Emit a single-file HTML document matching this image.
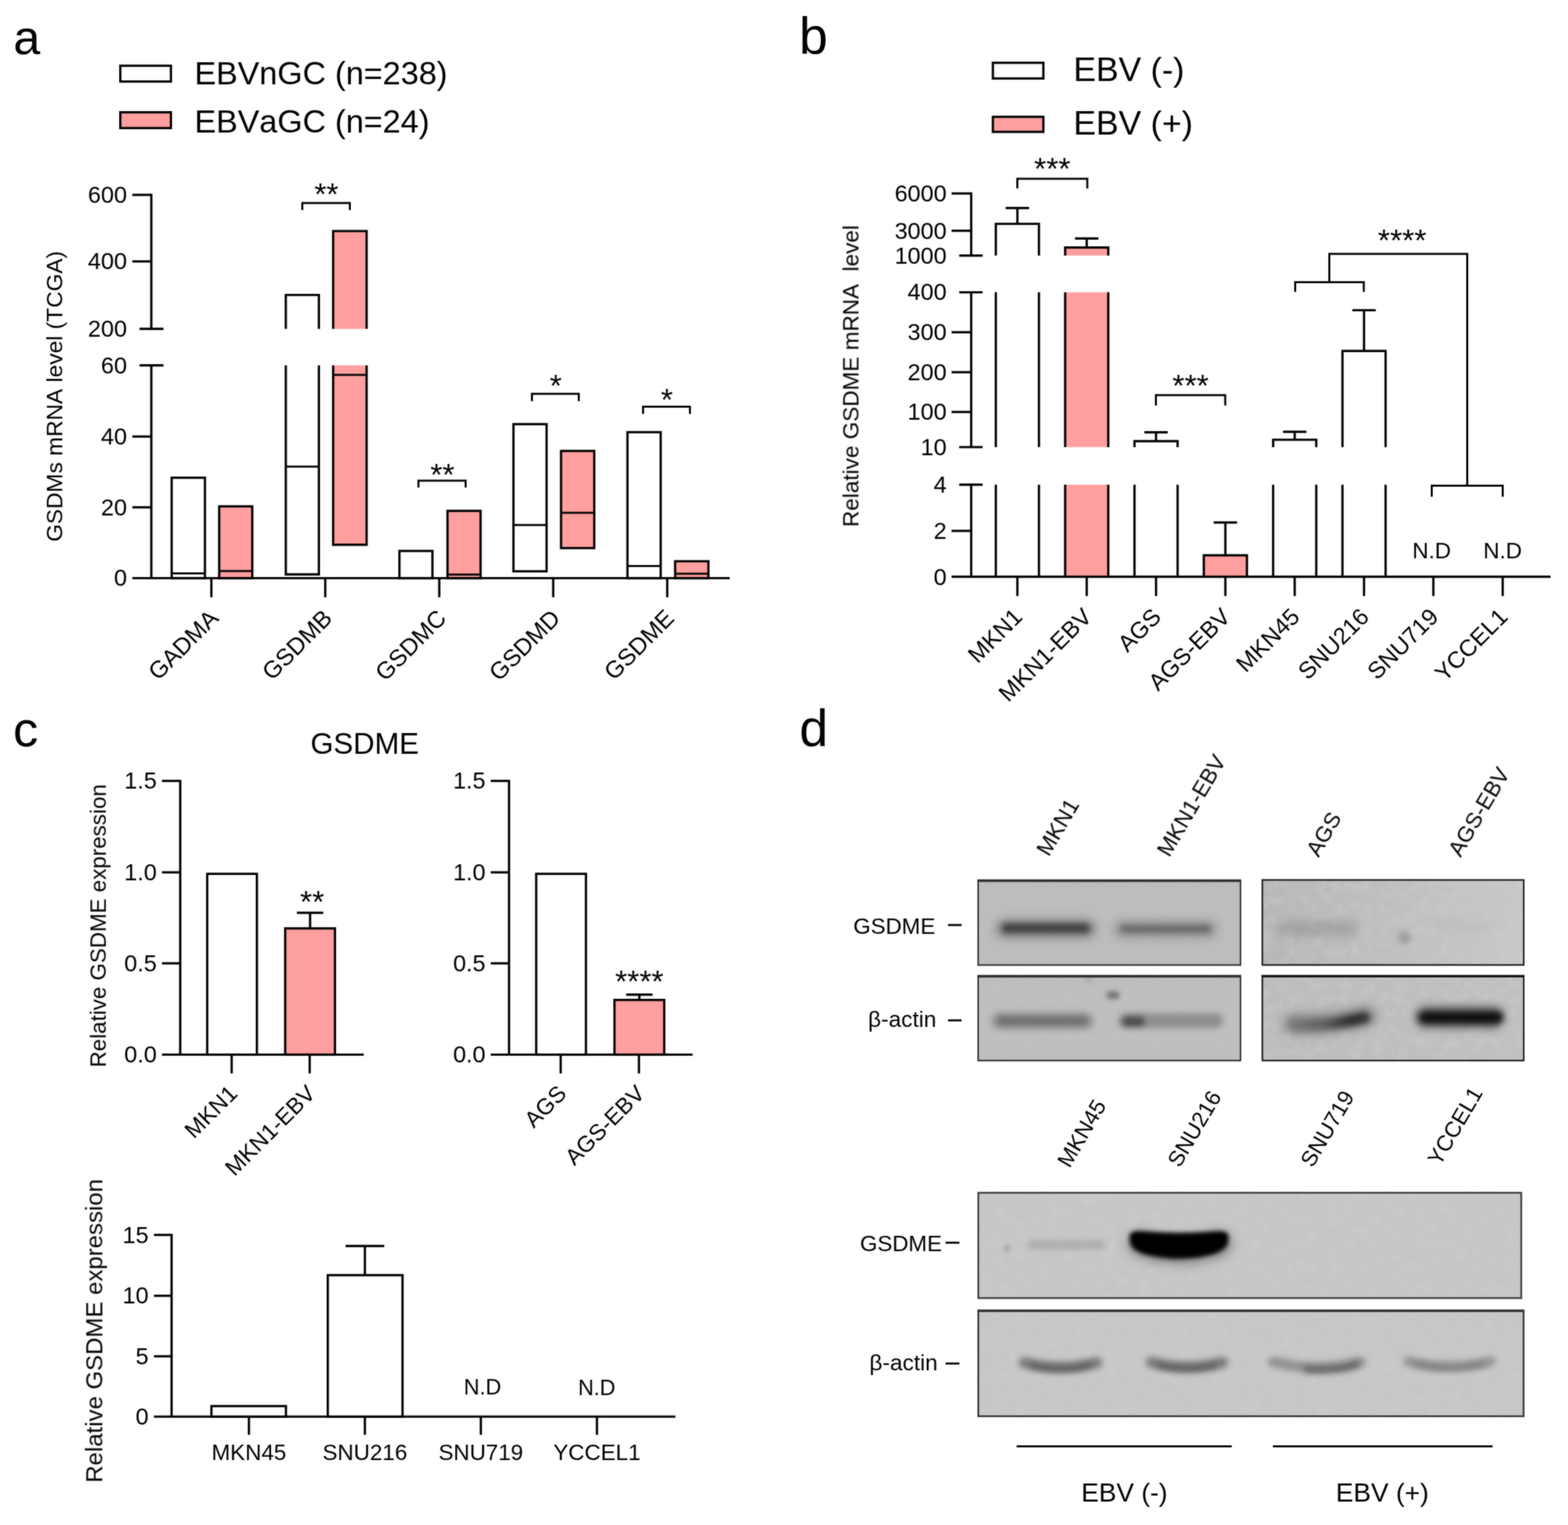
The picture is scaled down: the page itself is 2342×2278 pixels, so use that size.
<!DOCTYPE html>
<html lang="en"><head><meta charset="utf-8"><title>Figure</title>
<style>
html,body{margin:0;padding:0;background:#fff}
svg{display:block}
text{font-family:"Liberation Sans",sans-serif;fill:#000;font-kerning:none}
</style></head>
<body>
<svg width="2342" height="2278" viewBox="0 0 2342 2278">
<defs><filter id="soft" color-interpolation-filters="sRGB" filterUnits="userSpaceOnUse" x="0" y="0" width="2342" height="2278"><feGaussianBlur in="SourceGraphic" stdDeviation="1" result="b"/><feComposite in="SourceGraphic" in2="b" operator="arithmetic" k1="0" k2="0.5" k3="0.5" k4="0"/></filter></defs>
<rect width="2342" height="2278" fill="#fff"/>
<g filter="url(#soft)">
<text x="20" y="81" font-size="72" text-anchor="start">a</text>
<text x="1193.5" y="81" font-size="77" text-anchor="start">b</text>
<text x="19.5" y="1115" font-size="75" text-anchor="start">c</text>
<text x="1194" y="1115" font-size="77" text-anchor="start">d</text>
<rect x="179.7" y="98.2" width="75.6" height="23.6" fill="#fff" stroke="#000" stroke-width="3.4" />
<rect x="179.7" y="167.7" width="75.6" height="23.6" fill="#ff9f9f" stroke="#000" stroke-width="3.4" />
<text x="290.5" y="125.8" font-size="48.4" text-anchor="start">EBVnGC (n=238)</text>
<text x="290.5" y="198.2" font-size="48.4" text-anchor="start">EBVaGC (n=24)</text>
<line x1="226" y1="289.5" x2="226" y2="491.3" stroke="#000" stroke-width="3.4" stroke-linecap="butt"/>
<line x1="197.7" y1="291.1" x2="226" y2="291.1" stroke="#000" stroke-width="3.4" stroke-linecap="butt"/>
<line x1="197.7" y1="390.5" x2="226" y2="390.5" stroke="#000" stroke-width="3.4" stroke-linecap="butt"/>
<line x1="208.4" y1="491.3" x2="244.2" y2="491.3" stroke="#000" stroke-width="3.4" stroke-linecap="butt"/>
<line x1="226" y1="545.7" x2="226" y2="863.6" stroke="#000" stroke-width="3.4" stroke-linecap="butt"/>
<line x1="208.4" y1="545.7" x2="244.2" y2="545.7" stroke="#000" stroke-width="3.4" stroke-linecap="butt"/>
<line x1="197.7" y1="652.1" x2="226" y2="652.1" stroke="#000" stroke-width="3.4" stroke-linecap="butt"/>
<line x1="197.7" y1="757.8" x2="226" y2="757.8" stroke="#000" stroke-width="3.4" stroke-linecap="butt"/>
<text x="189.7" y="302.9" font-size="35" text-anchor="end">600</text>
<text x="189.7" y="402.3" font-size="35" text-anchor="end">400</text>
<text x="189.7" y="503.1" font-size="35" text-anchor="end">200</text>
<text x="189.7" y="557.5" font-size="35" text-anchor="end">60</text>
<text x="189.7" y="663.9" font-size="35" text-anchor="end">40</text>
<text x="189.7" y="769.6" font-size="35" text-anchor="end">20</text>
<text x="189.7" y="875.4" font-size="35" text-anchor="end">0</text>
<text x="93.5" y="592.1" font-size="34" text-anchor="middle" transform="rotate(-90 93.5 592.1)">GSDMs mRNA level (TCGA)</text>
<rect x="256.4" y="713.6" width="49.7" height="150" fill="#fff" stroke="#000" stroke-width="3.4" />
<line x1="256.4" y1="856.5" x2="306.1" y2="856.5" stroke="#000" stroke-width="3" stroke-linecap="butt"/>
<rect x="327.4" y="756.4" width="49.4" height="107.2" fill="#ff9f9f" stroke="#000" stroke-width="3.4" />
<line x1="327.4" y1="853" x2="376.8" y2="853" stroke="#000" stroke-width="3" stroke-linecap="butt"/>
<rect x="426.9" y="440.6" width="49.4" height="50.7" fill="#fff"/>
<polyline points="426.9,491.3 426.9,440.6 476.3,440.6 476.3,491.3" fill="none" stroke="#000" stroke-width="3.4" stroke-linejoin="miter"/>
<rect x="426.9" y="545.7" width="49.4" height="312.3" fill="#fff"/>
<polyline points="426.9,545.7 426.9,858 476.3,858 476.3,545.7" fill="none" stroke="#000" stroke-width="3.4" stroke-linejoin="miter"/>
<line x1="426.9" y1="697" x2="476.3" y2="697" stroke="#000" stroke-width="3" stroke-linecap="butt"/>
<rect x="497.6" y="345.1" width="50" height="146.2" fill="#ff9f9f"/>
<polyline points="497.6,491.3 497.6,345.1 547.6,345.1 547.6,491.3" fill="none" stroke="#000" stroke-width="3.4" stroke-linejoin="miter"/>
<rect x="497.6" y="545.7" width="50" height="268" fill="#ff9f9f"/>
<polyline points="497.6,545.7 497.6,813.7 547.6,813.7 547.6,545.7" fill="none" stroke="#000" stroke-width="3.4" stroke-linejoin="miter"/>
<line x1="497.6" y1="559.9" x2="547.6" y2="559.9" stroke="#000" stroke-width="3" stroke-linecap="butt"/>
<rect x="596.6" y="823" width="49.3" height="40.6" fill="#fff" stroke="#000" stroke-width="3.4" />
<rect x="668.4" y="763.1" width="49.4" height="100.5" fill="#ff9f9f" stroke="#000" stroke-width="3.4" />
<line x1="668.4" y1="858.3" x2="717.8" y2="858.3" stroke="#000" stroke-width="3" stroke-linecap="butt"/>
<rect x="766.9" y="633.6" width="49.5" height="219.8" fill="#fff" stroke="#000" stroke-width="3.4" />
<line x1="766.9" y1="784.2" x2="816.4" y2="784.2" stroke="#000" stroke-width="3" stroke-linecap="butt"/>
<rect x="838" y="673.6" width="49.6" height="145.1" fill="#ff9f9f" stroke="#000" stroke-width="3.4" />
<line x1="838" y1="766" x2="887.6" y2="766" stroke="#000" stroke-width="3" stroke-linecap="butt"/>
<rect x="937.2" y="645.6" width="49.6" height="218" fill="#fff" stroke="#000" stroke-width="3.4" />
<line x1="937.2" y1="845.4" x2="986.8" y2="845.4" stroke="#000" stroke-width="3" stroke-linecap="butt"/>
<rect x="1008.4" y="838.4" width="49.7" height="25.2" fill="#ff9f9f" stroke="#000" stroke-width="3.4" />
<line x1="1008.4" y1="857" x2="1058.1" y2="857" stroke="#000" stroke-width="3" stroke-linecap="butt"/>
<line x1="197.7" y1="863.6" x2="1090" y2="863.6" stroke="#000" stroke-width="3.4" stroke-linecap="butt"/>
<line x1="315.7" y1="863.6" x2="315.7" y2="892.2" stroke="#000" stroke-width="3.4" stroke-linecap="butt"/>
<line x1="485.8" y1="863.6" x2="485.8" y2="892.2" stroke="#000" stroke-width="3.4" stroke-linecap="butt"/>
<line x1="656.1" y1="863.6" x2="656.1" y2="892.2" stroke="#000" stroke-width="3.4" stroke-linecap="butt"/>
<line x1="826.3" y1="863.6" x2="826.3" y2="892.2" stroke="#000" stroke-width="3.4" stroke-linecap="butt"/>
<line x1="996.6" y1="863.6" x2="996.6" y2="892.2" stroke="#000" stroke-width="3.4" stroke-linecap="butt"/>
<polyline points="451.5,313.8 451.5,303.3 522.5,303.3 522.5,313.8" fill="none" stroke="#000" stroke-width="3" stroke-linejoin="miter"/>
<text x="487.5" y="305.5" font-size="46.5" text-anchor="middle">**</text>
<polyline points="625,728.3 625,718 695.5,718 695.5,728.3" fill="none" stroke="#000" stroke-width="3" stroke-linejoin="miter"/>
<text x="660.75" y="725" font-size="46.5" text-anchor="middle">**</text>
<polyline points="794.5,599.3 794.5,588.3 864.5,588.3 864.5,599.3" fill="none" stroke="#000" stroke-width="3" stroke-linejoin="miter"/>
<text x="830" y="592" font-size="46.5" text-anchor="middle">*</text>
<polyline points="960.5,618.3 960.5,607.5 1030.5,607.5 1030.5,618.3" fill="none" stroke="#000" stroke-width="3" stroke-linejoin="miter"/>
<text x="996" y="613.4" font-size="46.5" text-anchor="middle">*</text>
<text x="328.2" y="925.6" font-size="35.5" text-anchor="end" transform="rotate(-45 328.2 925.6)">GADMA</text>
<text x="498.3" y="925.6" font-size="35.5" text-anchor="end" transform="rotate(-45 498.3 925.6)">GSDMB</text>
<text x="668.6" y="925.6" font-size="35.5" text-anchor="end" transform="rotate(-45 668.6 925.6)">GSDMC</text>
<text x="838.8" y="925.6" font-size="35.5" text-anchor="end" transform="rotate(-45 838.8 925.6)">GSDMD</text>
<text x="1009.1" y="925.6" font-size="35.5" text-anchor="end" transform="rotate(-45 1009.1 925.6)">GSDME</text>
<rect x="1483" y="93.8" width="75.4" height="23.4" fill="#fff" stroke="#000" stroke-width="3.4" />
<rect x="1483" y="174.5" width="75.4" height="22.5" fill="#ff9f9f" stroke="#000" stroke-width="3.4" />
<text x="1603.3" y="121" font-size="50.6" text-anchor="start">EBV (-)</text>
<text x="1603.3" y="201.4" font-size="50.6" text-anchor="start">EBV (+)</text>
<line x1="1450.6" y1="287.4" x2="1450.6" y2="381.8" stroke="#000" stroke-width="3.4" stroke-linecap="butt"/>
<line x1="1450.6" y1="436.6" x2="1450.6" y2="667.9" stroke="#000" stroke-width="3.4" stroke-linecap="butt"/>
<line x1="1450.6" y1="724" x2="1450.6" y2="861.5" stroke="#000" stroke-width="3.4" stroke-linecap="butt"/>
<line x1="1421.3" y1="289" x2="1450.6" y2="289" stroke="#000" stroke-width="3.4" stroke-linecap="butt"/>
<line x1="1421.3" y1="344.7" x2="1450.6" y2="344.7" stroke="#000" stroke-width="3.4" stroke-linecap="butt"/>
<line x1="1421.3" y1="496.3" x2="1450.6" y2="496.3" stroke="#000" stroke-width="3.4" stroke-linecap="butt"/>
<line x1="1421.3" y1="556" x2="1450.6" y2="556" stroke="#000" stroke-width="3.4" stroke-linecap="butt"/>
<line x1="1421.3" y1="615.4" x2="1450.6" y2="615.4" stroke="#000" stroke-width="3.4" stroke-linecap="butt"/>
<line x1="1421.3" y1="793" x2="1450.6" y2="793" stroke="#000" stroke-width="3.4" stroke-linecap="butt"/>
<line x1="1432.7" y1="381.8" x2="1467.7" y2="381.8" stroke="#000" stroke-width="3.4" stroke-linecap="butt"/>
<line x1="1432.7" y1="436.6" x2="1467.7" y2="436.6" stroke="#000" stroke-width="3.4" stroke-linecap="butt"/>
<line x1="1432.7" y1="667.9" x2="1467.7" y2="667.9" stroke="#000" stroke-width="3.4" stroke-linecap="butt"/>
<line x1="1432.7" y1="724" x2="1467.7" y2="724" stroke="#000" stroke-width="3.4" stroke-linecap="butt"/>
<text x="1414" y="300.8" font-size="35" text-anchor="end">6000</text>
<text x="1414" y="356.5" font-size="35" text-anchor="end">3000</text>
<text x="1414" y="393.6" font-size="35" text-anchor="end">1000</text>
<text x="1414" y="448.4" font-size="35" text-anchor="end">400</text>
<text x="1414" y="508.1" font-size="35" text-anchor="end">300</text>
<text x="1414" y="567.8" font-size="35" text-anchor="end">200</text>
<text x="1414" y="627.2" font-size="35" text-anchor="end">100</text>
<text x="1414" y="679.7" font-size="35" text-anchor="end">10</text>
<text x="1414" y="735.8" font-size="35" text-anchor="end">4</text>
<text x="1414" y="804.8" font-size="35" text-anchor="end">2</text>
<text x="1414" y="873.8" font-size="35" text-anchor="end">0</text>
<text x="1282" y="561.7" font-size="33.7" text-anchor="middle" transform="rotate(-90 1282 561.7)" style="white-space:pre">Relative GSDME mRNA  level</text>
<rect x="1487.4" y="334.4" width="64.4" height="47.4" fill="#fff"/>
<polyline points="1487.4,381.8 1487.4,334.4 1551.8,334.4 1551.8,381.8" fill="none" stroke="#000" stroke-width="3.4" stroke-linejoin="miter"/>
<rect x="1487.4" y="436.6" width="64.4" height="231.3" fill="#fff"/>
<line x1="1487.4" y1="436.6" x2="1487.4" y2="667.9" stroke="#000" stroke-width="3.4" stroke-linecap="butt"/>
<line x1="1551.8" y1="436.6" x2="1551.8" y2="667.9" stroke="#000" stroke-width="3.4" stroke-linecap="butt"/>
<rect x="1487.4" y="724" width="64.4" height="137.5" fill="#fff"/>
<line x1="1487.4" y1="724" x2="1487.4" y2="861.5" stroke="#000" stroke-width="3.4" stroke-linecap="butt"/>
<line x1="1551.8" y1="724" x2="1551.8" y2="861.5" stroke="#000" stroke-width="3.4" stroke-linecap="butt"/>
<line x1="1519.6" y1="310.8" x2="1519.6" y2="334.4" stroke="#000" stroke-width="3.4" stroke-linecap="butt"/>
<line x1="1502.1" y1="310.8" x2="1537.1" y2="310.8" stroke="#000" stroke-width="3.4" stroke-linecap="butt"/>
<rect x="1590.95" y="369.8" width="64.4" height="12" fill="#ff9f9f"/>
<polyline points="1590.95,381.8 1590.95,369.8 1655.35,369.8 1655.35,381.8" fill="none" stroke="#000" stroke-width="3.4" stroke-linejoin="miter"/>
<rect x="1590.95" y="436.6" width="64.4" height="231.3" fill="#ff9f9f"/>
<line x1="1590.95" y1="436.6" x2="1590.95" y2="667.9" stroke="#000" stroke-width="3.4" stroke-linecap="butt"/>
<line x1="1655.35" y1="436.6" x2="1655.35" y2="667.9" stroke="#000" stroke-width="3.4" stroke-linecap="butt"/>
<rect x="1590.95" y="724" width="64.4" height="137.5" fill="#ff9f9f"/>
<line x1="1590.95" y1="724" x2="1590.95" y2="861.5" stroke="#000" stroke-width="3.4" stroke-linecap="butt"/>
<line x1="1655.35" y1="724" x2="1655.35" y2="861.5" stroke="#000" stroke-width="3.4" stroke-linecap="butt"/>
<line x1="1623.15" y1="356.2" x2="1623.15" y2="369.8" stroke="#000" stroke-width="3.4" stroke-linecap="butt"/>
<line x1="1605.65" y1="356.2" x2="1640.65" y2="356.2" stroke="#000" stroke-width="3.4" stroke-linecap="butt"/>
<rect x="1694.5" y="659" width="64.4" height="8.9" fill="#fff"/>
<polyline points="1694.5,667.9 1694.5,659 1758.9,659 1758.9,667.9" fill="none" stroke="#000" stroke-width="3.4" stroke-linejoin="miter"/>
<rect x="1694.5" y="724" width="64.4" height="137.5" fill="#fff"/>
<line x1="1694.5" y1="724" x2="1694.5" y2="861.5" stroke="#000" stroke-width="3.4" stroke-linecap="butt"/>
<line x1="1758.9" y1="724" x2="1758.9" y2="861.5" stroke="#000" stroke-width="3.4" stroke-linecap="butt"/>
<line x1="1726.7" y1="645.8" x2="1726.7" y2="659" stroke="#000" stroke-width="3.4" stroke-linecap="butt"/>
<line x1="1709.2" y1="645.8" x2="1744.2" y2="645.8" stroke="#000" stroke-width="3.4" stroke-linecap="butt"/>
<rect x="1798.05" y="829.5" width="64.4" height="32" fill="#ff9f9f"/>
<polyline points="1798.05,861.5 1798.05,829.5 1862.45,829.5 1862.45,861.5" fill="none" stroke="#000" stroke-width="3.4" stroke-linejoin="miter"/>
<line x1="1830.25" y1="780.5" x2="1830.25" y2="829.5" stroke="#000" stroke-width="3.4" stroke-linecap="butt"/>
<line x1="1812.75" y1="780.5" x2="1847.75" y2="780.5" stroke="#000" stroke-width="3.4" stroke-linecap="butt"/>
<rect x="1901.6" y="656.9" width="64.4" height="11" fill="#fff"/>
<polyline points="1901.6,667.9 1901.6,656.9 1966,656.9 1966,667.9" fill="none" stroke="#000" stroke-width="3.4" stroke-linejoin="miter"/>
<rect x="1901.6" y="724" width="64.4" height="137.5" fill="#fff"/>
<line x1="1901.6" y1="724" x2="1901.6" y2="861.5" stroke="#000" stroke-width="3.4" stroke-linecap="butt"/>
<line x1="1966" y1="724" x2="1966" y2="861.5" stroke="#000" stroke-width="3.4" stroke-linecap="butt"/>
<line x1="1933.8" y1="645" x2="1933.8" y2="656.9" stroke="#000" stroke-width="3.4" stroke-linecap="butt"/>
<line x1="1916.3" y1="645" x2="1951.3" y2="645" stroke="#000" stroke-width="3.4" stroke-linecap="butt"/>
<rect x="2005.15" y="524.2" width="64.4" height="143.7" fill="#fff"/>
<polyline points="2005.15,667.9 2005.15,524.2 2069.55,524.2 2069.55,667.9" fill="none" stroke="#000" stroke-width="3.4" stroke-linejoin="miter"/>
<rect x="2005.15" y="724" width="64.4" height="137.5" fill="#fff"/>
<line x1="2005.15" y1="724" x2="2005.15" y2="861.5" stroke="#000" stroke-width="3.4" stroke-linecap="butt"/>
<line x1="2069.55" y1="724" x2="2069.55" y2="861.5" stroke="#000" stroke-width="3.4" stroke-linecap="butt"/>
<line x1="2037.35" y1="463.4" x2="2037.35" y2="524.2" stroke="#000" stroke-width="3.4" stroke-linecap="butt"/>
<line x1="2019.85" y1="463.4" x2="2054.85" y2="463.4" stroke="#000" stroke-width="3.4" stroke-linecap="butt"/>
<line x1="1421.3" y1="861.5" x2="2316" y2="861.5" stroke="#000" stroke-width="3.4" stroke-linecap="butt"/>
<line x1="1519.6" y1="861.5" x2="1519.6" y2="890.3" stroke="#000" stroke-width="3.4" stroke-linecap="butt"/>
<line x1="1623.15" y1="861.5" x2="1623.15" y2="890.3" stroke="#000" stroke-width="3.4" stroke-linecap="butt"/>
<line x1="1726.7" y1="861.5" x2="1726.7" y2="890.3" stroke="#000" stroke-width="3.4" stroke-linecap="butt"/>
<line x1="1830.25" y1="861.5" x2="1830.25" y2="890.3" stroke="#000" stroke-width="3.4" stroke-linecap="butt"/>
<line x1="1933.8" y1="861.5" x2="1933.8" y2="890.3" stroke="#000" stroke-width="3.4" stroke-linecap="butt"/>
<line x1="2037.35" y1="861.5" x2="2037.35" y2="890.3" stroke="#000" stroke-width="3.4" stroke-linecap="butt"/>
<line x1="2140.9" y1="861.5" x2="2140.9" y2="890.3" stroke="#000" stroke-width="3.4" stroke-linecap="butt"/>
<line x1="2244.45" y1="861.5" x2="2244.45" y2="890.3" stroke="#000" stroke-width="3.4" stroke-linecap="butt"/>
<polyline points="1519.5,281.5 1519.5,267 1624,267 1624,281.5" fill="none" stroke="#000" stroke-width="3" stroke-linejoin="miter"/>
<text x="1571.75" y="268.3" font-size="46.5" text-anchor="middle">***</text>
<polyline points="1726.5,605.7 1726.5,590.3 1830,590.3 1830,605.7" fill="none" stroke="#000" stroke-width="3" stroke-linejoin="miter"/>
<text x="1778.25" y="592.3" font-size="46.5" text-anchor="middle">***</text>
<polyline points="1934.5,436 1934.5,421.5 2037,421.5 2037,436" fill="none" stroke="#000" stroke-width="3" stroke-linejoin="miter"/>
<polyline points="1985.5,421.5 1985.5,379.3 2191.5,379.3 2191.5,725.5" fill="none" stroke="#000" stroke-width="3" stroke-linejoin="miter"/>
<polyline points="2138.5,742 2138.5,725.5 2244.5,725.5 2244.5,742" fill="none" stroke="#000" stroke-width="3" stroke-linejoin="miter"/>
<text x="2094.3" y="374.9" font-size="46.5" text-anchor="middle">****</text>
<text x="2138.3" y="834.2" font-size="33.5" text-anchor="middle">N.D</text>
<text x="2244.4" y="834.2" font-size="33.5" text-anchor="middle">N.D</text>
<text x="1529.1" y="923.5" font-size="35" text-anchor="end" transform="rotate(-45 1529.1 923.5)">MKN1</text>
<text x="1632.65" y="923.5" font-size="35" text-anchor="end" transform="rotate(-45 1632.65 923.5)">MKN1-EBV</text>
<text x="1736.2" y="923.5" font-size="35" text-anchor="end" transform="rotate(-45 1736.2 923.5)">AGS</text>
<text x="1839.75" y="923.5" font-size="35" text-anchor="end" transform="rotate(-45 1839.75 923.5)">AGS-EBV</text>
<text x="1943.3" y="923.5" font-size="35" text-anchor="end" transform="rotate(-45 1943.3 923.5)">MKN45</text>
<text x="2046.85" y="923.5" font-size="35" text-anchor="end" transform="rotate(-45 2046.85 923.5)">SNU216</text>
<text x="2150.4" y="923.5" font-size="35" text-anchor="end" transform="rotate(-45 2150.4 923.5)">SNU719</text>
<text x="2253.95" y="923.5" font-size="35" text-anchor="end" transform="rotate(-45 2253.95 923.5)">YCCEL1</text>
<text x="544.7" y="1126" font-size="44.2" text-anchor="middle">GSDME</text>
<line x1="269.2" y1="1165" x2="269.2" y2="1575.4" stroke="#000" stroke-width="3.4" stroke-linecap="butt"/>
<line x1="241.9" y1="1166.5" x2="269.2" y2="1166.5" stroke="#000" stroke-width="3.4" stroke-linecap="butt"/>
<text x="234.2" y="1178.3" font-size="35" text-anchor="end">1.5</text>
<line x1="241.9" y1="1303.1" x2="269.2" y2="1303.1" stroke="#000" stroke-width="3.4" stroke-linecap="butt"/>
<text x="234.2" y="1314.9" font-size="35" text-anchor="end">1.0</text>
<line x1="241.9" y1="1439" x2="269.2" y2="1439" stroke="#000" stroke-width="3.4" stroke-linecap="butt"/>
<text x="234.2" y="1450.8" font-size="35" text-anchor="end">0.5</text>
<text x="234.2" y="1587.2" font-size="35" text-anchor="end">0.0</text>
<line x1="241.9" y1="1575.4" x2="543.4" y2="1575.4" stroke="#000" stroke-width="3.4" stroke-linecap="butt"/>
<rect x="309.5" y="1305.3" width="74.2" height="270.1" fill="#fff" stroke="#000" stroke-width="3.4" />
<line x1="346" y1="1575.4" x2="346" y2="1603.5" stroke="#000" stroke-width="3.4" stroke-linecap="butt"/>
<rect x="426" y="1386.8" width="74.3" height="188.6" fill="#ff9f9f" stroke="#000" stroke-width="3.4" />
<line x1="463.15" y1="1363.5" x2="463.15" y2="1386.8" stroke="#000" stroke-width="3.4" stroke-linecap="butt"/>
<line x1="443.45" y1="1363.5" x2="482.85" y2="1363.5" stroke="#000" stroke-width="3.4" stroke-linecap="butt"/>
<text x="466.15" y="1363" font-size="46.5" text-anchor="middle">**</text>
<line x1="462.55" y1="1575.4" x2="462.55" y2="1603.5" stroke="#000" stroke-width="3.4" stroke-linecap="butt"/>
<text x="356.6" y="1635.4" font-size="34" text-anchor="end" transform="rotate(-45 356.6 1635.4)">MKN1</text>
<text x="473.15" y="1635.4" font-size="34" text-anchor="end" transform="rotate(-45 473.15 1635.4)">MKN1-EBV</text>
<line x1="760.3" y1="1165" x2="760.3" y2="1575.4" stroke="#000" stroke-width="3.4" stroke-linecap="butt"/>
<line x1="733" y1="1166.5" x2="760.3" y2="1166.5" stroke="#000" stroke-width="3.4" stroke-linecap="butt"/>
<text x="725.3" y="1178.3" font-size="35" text-anchor="end">1.5</text>
<line x1="733" y1="1303.1" x2="760.3" y2="1303.1" stroke="#000" stroke-width="3.4" stroke-linecap="butt"/>
<text x="725.3" y="1314.9" font-size="35" text-anchor="end">1.0</text>
<line x1="733" y1="1439" x2="760.3" y2="1439" stroke="#000" stroke-width="3.4" stroke-linecap="butt"/>
<text x="725.3" y="1450.8" font-size="35" text-anchor="end">0.5</text>
<text x="725.3" y="1587.2" font-size="35" text-anchor="end">0.0</text>
<line x1="733" y1="1575.4" x2="1034.5" y2="1575.4" stroke="#000" stroke-width="3.4" stroke-linecap="butt"/>
<rect x="800.9" y="1305.3" width="74.3" height="270.1" fill="#fff" stroke="#000" stroke-width="3.4" />
<line x1="837.45" y1="1575.4" x2="837.45" y2="1603.5" stroke="#000" stroke-width="3.4" stroke-linecap="butt"/>
<rect x="917.8" y="1493.7" width="74.3" height="81.7" fill="#ff9f9f" stroke="#000" stroke-width="3.4" />
<line x1="954.95" y1="1485.8" x2="954.95" y2="1493.7" stroke="#000" stroke-width="3.4" stroke-linecap="butt"/>
<line x1="935.25" y1="1485.8" x2="974.65" y2="1485.8" stroke="#000" stroke-width="3.4" stroke-linecap="butt"/>
<text x="954.95" y="1482.3" font-size="46.5" text-anchor="middle">****</text>
<line x1="954.35" y1="1575.4" x2="954.35" y2="1603.5" stroke="#000" stroke-width="3.4" stroke-linecap="butt"/>
<text x="848.05" y="1635.4" font-size="34" text-anchor="end" transform="rotate(-45 848.05 1635.4)">AGS</text>
<text x="964.95" y="1635.4" font-size="34" text-anchor="end" transform="rotate(-45 964.95 1635.4)">AGS-EBV</text>
<text x="158" y="1382.9" font-size="33.4" text-anchor="middle" transform="rotate(-90 158 1382.9)">Relative GSDME expression</text>
<line x1="256.3" y1="1843.1" x2="256.3" y2="2116.1" stroke="#000" stroke-width="3.4" stroke-linecap="butt"/>
<line x1="229.9" y1="1844.7" x2="256.3" y2="1844.7" stroke="#000" stroke-width="3.4" stroke-linecap="butt"/>
<text x="222" y="1856.5" font-size="35" text-anchor="end">15</text>
<line x1="229.9" y1="1935.6" x2="256.3" y2="1935.6" stroke="#000" stroke-width="3.4" stroke-linecap="butt"/>
<text x="222" y="1947.4" font-size="35" text-anchor="end">10</text>
<line x1="229.9" y1="2026" x2="256.3" y2="2026" stroke="#000" stroke-width="3.4" stroke-linecap="butt"/>
<text x="222" y="2037.8" font-size="35" text-anchor="end">5</text>
<text x="222" y="2127.9" font-size="35" text-anchor="end">0</text>
<line x1="229.9" y1="2116.1" x2="1008.8" y2="2116.1" stroke="#000" stroke-width="3.4" stroke-linecap="butt"/>
<rect x="315.8" y="2100.4" width="111.3" height="15.7" fill="#fff" stroke="#000" stroke-width="3.4" />
<rect x="489.6" y="1904.8" width="111.6" height="211.3" fill="#fff" stroke="#000" stroke-width="3.4" />
<line x1="545" y1="1861.2" x2="545" y2="1904.8" stroke="#000" stroke-width="3.4" stroke-linecap="butt"/>
<line x1="516.1" y1="1861.2" x2="573.9" y2="1861.2" stroke="#000" stroke-width="3.4" stroke-linecap="butt"/>
<line x1="371.8" y1="2116.1" x2="371.8" y2="2143.3" stroke="#000" stroke-width="3.4" stroke-linecap="butt"/>
<text x="371.8" y="2181" font-size="33.5" text-anchor="middle">MKN45</text>
<line x1="545" y1="2116.1" x2="545" y2="2143.3" stroke="#000" stroke-width="3.4" stroke-linecap="butt"/>
<text x="545" y="2181" font-size="33.5" text-anchor="middle">SNU216</text>
<line x1="718.2" y1="2116.1" x2="718.2" y2="2143.3" stroke="#000" stroke-width="3.4" stroke-linecap="butt"/>
<text x="718.2" y="2181" font-size="33.5" text-anchor="middle">SNU719</text>
<line x1="891.6" y1="2116.1" x2="891.6" y2="2143.3" stroke="#000" stroke-width="3.4" stroke-linecap="butt"/>
<text x="891.6" y="2181" font-size="33.5" text-anchor="middle">YCCEL1</text>
<text x="720.7" y="2082.5" font-size="32.4" text-anchor="middle">N.D</text>
<text x="891.3" y="2084.3" font-size="32.4" text-anchor="middle">N.D</text>
<text x="152.8" y="1988" font-size="35.8" text-anchor="middle" transform="rotate(-90 152.8 1988)">Relative GSDME expression</text>
<defs>
<filter id="b2" filterUnits="userSpaceOnUse" x="1400" y="1250" width="942" height="900"><feGaussianBlur stdDeviation="2"/></filter>
<filter id="b3" filterUnits="userSpaceOnUse" x="1400" y="1250" width="942" height="900"><feGaussianBlur stdDeviation="3"/></filter>
<filter id="b4" filterUnits="userSpaceOnUse" x="1400" y="1250" width="942" height="900"><feGaussianBlur stdDeviation="4"/></filter>
<filter id="b5" filterUnits="userSpaceOnUse" x="1400" y="1250" width="942" height="900"><feGaussianBlur stdDeviation="5"/></filter>
<filter id="b7" filterUnits="userSpaceOnUse" x="1400" y="1250" width="942" height="900"><feGaussianBlur stdDeviation="7"/></filter>
<filter id="b10" filterUnits="userSpaceOnUse" x="1400" y="1250" width="942" height="900"><feGaussianBlur stdDeviation="10"/></filter>
<filter id="nz" filterUnits="userSpaceOnUse" x="1455" y="1310" width="405" height="280"><feTurbulence type="fractalNoise" baseFrequency="0.45" numOctaves="2" seed="7" result="t"/><feColorMatrix in="t" type="matrix" values="0 0 0 0 0.55  0 0 0 0 0.55  0 0 0 0 0.55  1.6 0 0 0 -0.62"/></filter>
<filter id="nz2" filterUnits="userSpaceOnUse" x="1455" y="1310" width="830" height="810"><feTurbulence type="fractalNoise" baseFrequency="0.06" numOctaves="2" seed="11" result="t"/><feColorMatrix in="t" type="matrix" values="0 0 0 0 0.62  0 0 0 0 0.62  0 0 0 0 0.62  1.0 0 0 0 -0.42"/></filter>
<linearGradient id="gb4" gradientUnits="userSpaceOnUse" x1="1925" y1="0" x2="2045" y2="0"><stop offset="0" stop-color="#777"/><stop offset="0.45" stop-color="#555"/><stop offset="0.75" stop-color="#1c1c1c"/><stop offset="1" stop-color="#222"/></linearGradient>
<linearGradient id="g3" x1="0" y1="0" x2="1" y2="0"><stop offset="0" stop-color="#b7b7b7"/><stop offset="0.5" stop-color="#bfbfbf"/><stop offset="1" stop-color="#c8c8c8"/></linearGradient>
<linearGradient id="g4" x1="0" y1="0" x2="1" y2="0"><stop offset="0" stop-color="#bcbcbc"/><stop offset="1" stop-color="#c0c0c0"/></linearGradient>
<clipPath id="c1"><rect x="1460" y="1314" width="394" height="128.5"/></clipPath>
<clipPath id="c2"><rect x="1460" y="1456.5" width="394" height="128.5"/></clipPath>
<clipPath id="c3"><rect x="1884.5" y="1313.5" width="392.5" height="129"/></clipPath>
<clipPath id="c4"><rect x="1884.5" y="1456.5" width="392.5" height="128.5"/></clipPath>
<clipPath id="c5"><rect x="1460" y="1780.5" width="813.5" height="159.8"/></clipPath>
<clipPath id="c6"><rect x="1460" y="1956.3" width="817" height="160.5"/></clipPath>
</defs>
<rect x="1459.9" y="1313.8" width="394" height="128.8" fill="#bbb"/>
<g clip-path="url(#c1)">
<rect x="1459.9" y="1313.8" width="394" height="128.8" filter="url(#nz)"/>
<rect x="1486" y="1372.5" width="152" height="30" rx="15" fill="#666" opacity="0.55" filter="url(#b7)"/>
<rect x="1496" y="1379" width="132" height="15" rx="7.5" fill="#2a2a2a" opacity="0.75" filter="url(#b4)"/>
<rect x="1663" y="1374" width="156" height="28" rx="14" fill="#707070" opacity="0.45" filter="url(#b7)"/>
<rect x="1673" y="1381.5" width="136" height="12" rx="6" fill="#404040" opacity="0.55" filter="url(#b4)"/>
</g>
<rect x="1461" y="1314.9" width="391.8" height="126.6" fill="none" stroke="#2c2c2c" stroke-width="2.2"/>
<rect x="1459.9" y="1313.8" width="394" height="3.6" fill="#2c2c2c"/>
<rect x="1459.9" y="1456.6" width="394" height="128.7" fill="#bdbdbd"/>
<g clip-path="url(#c2)">
<rect x="1459.9" y="1456.6" width="394" height="128.7" filter="url(#nz)"/>
<rect x="1481" y="1512" width="152" height="26" rx="13" fill="#666" opacity="0.5" filter="url(#b5)"/>
<rect x="1490" y="1519.5" width="134" height="11" rx="5.5" fill="#444" opacity="0.5" filter="url(#b4)"/>
<rect x="1671" y="1513.5" width="156" height="22" rx="11" fill="#666" opacity="0.55" filter="url(#b5)"/>
<rect x="1676" y="1518.5" width="34" height="15" rx="7.5" fill="#222" opacity="0.6" filter="url(#b4)"/>
<rect x="1652.5" y="1480.5" width="20" height="12" rx="6" fill="#555" opacity="0.65" filter="url(#b3)"/>
<rect x="1619.5" y="1458" width="14" height="10" rx="5" fill="#888" opacity="0.3" filter="url(#b3)"/>
</g>
<rect x="1461" y="1457.7" width="391.8" height="126.5" fill="none" stroke="#2c2c2c" stroke-width="2.2"/>
<rect x="1459.9" y="1456.6" width="394" height="3.6" fill="#2c2c2c"/>
<rect x="1884.4" y="1313.4" width="392.6" height="129.1" fill="url(#g3)"/>
<g clip-path="url(#c3)">
<rect x="1884.4" y="1313.4" width="392.6" height="129.1" filter="url(#nz2)"/>
<rect x="1908" y="1376" width="120" height="22" rx="11" fill="#808080" opacity="0.42" filter="url(#b7)"/>
<rect x="2088.5" y="1392" width="20" height="18" rx="9" fill="#777" opacity="0.5" filter="url(#b5)"/>
<rect x="2140" y="1378" width="90" height="10" rx="5" fill="#999" opacity="0.2" filter="url(#b7)"/>
</g>
<rect x="1885.5" y="1314.5" width="390.4" height="126.9" fill="none" stroke="#111" stroke-width="2.2"/>
<rect x="1884.4" y="1456.6" width="392.6" height="128.7" fill="url(#g4)"/>
<g clip-path="url(#c4)">
<rect x="1884.4" y="1456.6" width="392.6" height="128.7" filter="url(#nz2)"/>
<path d="M1932 1529 Q1985 1532 2040 1518" fill="none" stroke="#666" stroke-width="34" stroke-linecap="round" stroke-linejoin="round" opacity="0.5" filter="url(#b7)"/>
<path d="M1934 1530.5 Q1985 1533 2038 1520" fill="none" stroke="url(#gb4)" stroke-width="17" stroke-linecap="round" stroke-linejoin="round" opacity="0.85" filter="url(#b5)"/>
<rect x="2113" y="1503.5" width="134" height="32" rx="16" fill="#333" opacity="0.7" filter="url(#b7)"/>
<rect x="2120" y="1511.5" width="124" height="17" rx="8.5" fill="#000" opacity="0.85" filter="url(#b5)"/>
</g>
<rect x="1885.5" y="1457.7" width="390.4" height="126.5" fill="none" stroke="#111" stroke-width="2.2"/>
<rect x="1884.4" y="1456.6" width="392.6" height="3.4" fill="#111"/>
<rect x="1459.9" y="1780.5" width="813.5" height="159.8" fill="#c6c6c6"/>
<g clip-path="url(#c5)">
<rect x="1459.9" y="1780.5" width="813.5" height="159.8" filter="url(#nz2)"/>
<rect x="1535" y="1853.5" width="116" height="12" rx="6" fill="#8a8a8a" opacity="0.45" filter="url(#b5)"/>
<rect x="1499.5" y="1860" width="9" height="9" rx="4.5" fill="#777" opacity="0.5" filter="url(#b3)"/>
<path d="M1702 1858 Q1762 1880 1822 1858" fill="none" stroke="#000" stroke-width="30" stroke-linecap="round" stroke-linejoin="round" opacity="0.5" filter="url(#b10)"/>
<path d="M1689 1847 Q1689 1841 1701 1841 Q1760 1846 1821 1841 Q1833 1841 1833 1848 L1832 1857 Q1827 1867 1810 1872 Q1762 1884 1712 1872 Q1694 1867 1690 1857 Z" fill="#000" stroke="#000" stroke-width="4" stroke-linecap="round" stroke-linejoin="round" opacity="1" filter="url(#b3)"/>
</g>
<rect x="1461.2" y="1781.8" width="810.9" height="157.2" fill="none" stroke="#3c3c3c" stroke-width="2.6"/>
<rect x="1459.9" y="1956.3" width="817.1" height="160.5" fill="#c7c7c7"/>
<g clip-path="url(#c6)">
<rect x="1459.9" y="1956.3" width="817.1" height="160.5" filter="url(#nz2)"/>
<path d="M1530 2035.5 Q1584 2049.5 1638 2035.5" fill="none" stroke="#505050" stroke-width="17" stroke-linecap="round" opacity="0.62" filter="url(#b4)"/>
<path d="M1542 2040 Q1584 2051 1626 2040" fill="none" stroke="#333" stroke-width="9" stroke-linecap="round" opacity="0.4" filter="url(#b4)"/>
<path d="M1720 2035 Q1773 2049 1826 2035" fill="none" stroke="#505050" stroke-width="17" stroke-linecap="round" opacity="0.62" filter="url(#b4)"/>
<path d="M1732 2039.5 Q1773 2050.5 1814 2039.5" fill="none" stroke="#333" stroke-width="9" stroke-linecap="round" opacity="0.4" filter="url(#b4)"/>
<path d="M1902 2034.5 Q1967 2050.5 2032 2034.5" fill="none" stroke="#666" stroke-width="16" stroke-linecap="round" opacity="0.55" filter="url(#b4)"/>
<path d="M1952 2046 Q1998 2049.5 2026 2038.5" fill="none" stroke="#222" stroke-width="9" stroke-linecap="round" stroke-linejoin="round" opacity="0.5" filter="url(#b5)"/>
<path d="M2104 2033.5 Q2165 2048.5 2226 2033.5" fill="none" stroke="#666" stroke-width="16" stroke-linecap="round" opacity="0.5" filter="url(#b4)"/>
<path d="M2116 2038.5 Q2165 2050.5 2214 2038.5" fill="none" stroke="#444" stroke-width="8" stroke-linecap="round" opacity="0.3" filter="url(#b4)"/>
</g>
<rect x="1461.2" y="1957.6" width="814.5" height="157.9" fill="none" stroke="#333" stroke-width="2.6"/>
<rect x="1459.9" y="1956.3" width="817.1" height="3.6" fill="#333"/>
<text x="1274.5" y="1395.4" font-size="33.4" text-anchor="start">GSDME</text>
<line x1="1415.9" y1="1381.8" x2="1436.3" y2="1381.8" stroke="#000" stroke-width="3" stroke-linecap="butt"/>
<text x="1296.5" y="1534.2" font-size="33.8" text-anchor="start">β-actin</text>
<line x1="1415.9" y1="1524.2" x2="1436.3" y2="1524.2" stroke="#000" stroke-width="3" stroke-linecap="butt"/>
<text x="1284.5" y="1868.9" font-size="33.4" text-anchor="start">GSDME</text>
<line x1="1412.3" y1="1856.3" x2="1433" y2="1856.3" stroke="#000" stroke-width="3" stroke-linecap="butt"/>
<text x="1298.5" y="2047" font-size="33.8" text-anchor="start">β-actin</text>
<line x1="1412.3" y1="2036.8" x2="1433" y2="2036.8" stroke="#000" stroke-width="3" stroke-linecap="butt"/>
<text x="1566" y="1280.5" font-size="33" text-anchor="start" transform="rotate(-59.5 1566 1280.5)">MKN1</text>
<text x="1746" y="1281.5" font-size="33" text-anchor="start" transform="rotate(-59.5 1746 1281.5)">MKN1-EBV</text>
<text x="1969" y="1281.5" font-size="33" text-anchor="start" transform="rotate(-59.5 1969 1281.5)">AGS</text>
<text x="2181" y="1281.5" font-size="33" text-anchor="start" transform="rotate(-59.5 2181 1281.5)">AGS-EBV</text>
<text x="1597.5" y="1746" font-size="33" text-anchor="start" transform="rotate(-59.5 1597.5 1746)">MKN45</text>
<text x="1762" y="1745.5" font-size="33" text-anchor="start" transform="rotate(-59.5 1762 1745.5)">SNU216</text>
<text x="1960.5" y="1745.5" font-size="33" text-anchor="start" transform="rotate(-59.5 1960.5 1745.5)">SNU719</text>
<text x="2150.5" y="1743" font-size="33" text-anchor="start" transform="rotate(-59.5 2150.5 1743)">YCCEL1</text>
<line x1="1518.5" y1="2160.5" x2="1839.7" y2="2160.5" stroke="#000" stroke-width="3" stroke-linecap="butt"/>
<line x1="1901.2" y1="2160.5" x2="2229.4" y2="2160.5" stroke="#000" stroke-width="3" stroke-linecap="butt"/>
<text x="1679.5" y="2243.4" font-size="39.3" text-anchor="middle">EBV (-)</text>
<text x="2064.7" y="2243.4" font-size="39.3" text-anchor="middle">EBV (+)</text>
</g>
</svg>
</body></html>
